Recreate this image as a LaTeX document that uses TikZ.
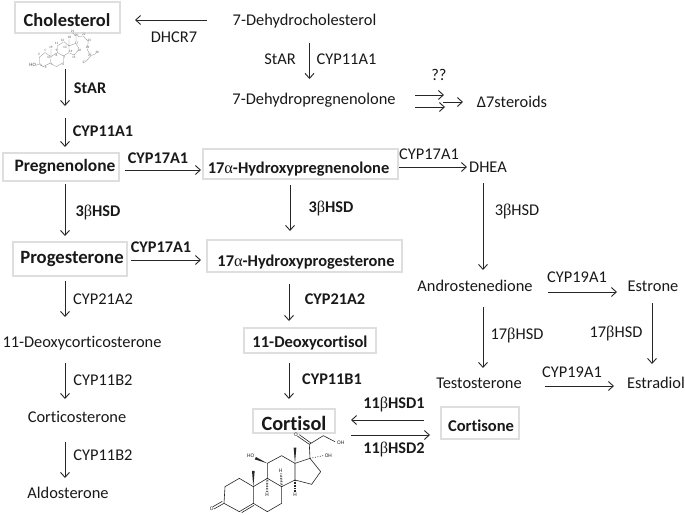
\documentclass[tikz,border=0pt]{standalone}
\usepackage{fontspec}
\setmainfont[Ligatures=NoCommon]{Carlito}
\newfontfamily\symfont{Liberation Serif}
\usetikzlibrary{arrows.meta}
\newcommand{\gr}[1]{{\symfont\mdseries #1}}
\tikzset{
  x=1pt,y=-1pt,
  lab/.style={font=\fontsize{16.4}{18}\selectfont,text=black!90,inner sep=0pt,text height=13pt,text depth=3pt,anchor=center},
  blab/.style={lab,font=\fontsize{16.3}{18}\selectfont\bfseries},
  boxed/.style={draw=black!13,line width=2.6pt,fill=white,inner sep=0pt},
  arr/.style={draw=black!85,line width=0.9pt,-{Straight Barb[length=5pt,width=9pt,line width=0.9pt]}},
  bond/.style={line width=0.6pt,draw=black!85},
  tinyatom/.style={font=\fontsize{3.4}{4}\selectfont,text=black!65,inner sep=0pt,fill=white,fill opacity=0.8,text opacity=1},
  smallatom/.style={font=\fontsize{5.5}{6}\selectfont,inner sep=0pt,text=black!85},
}
\begin{document}
\begin{tikzpicture}
\useasboundingbox (0,0) rectangle (685,514);
\fill[white] (0,0) rectangle (685,514);
% frames
\node[boxed,minimum width=105pt,minimum height=31pt] (bchol) at (67.5,17.5) {};
\node[boxed,minimum width=116pt,minimum height=28pt] (bpreg) at (61,167) {};
\node[boxed,minimum width=195pt,minimum height=30pt] (bohpreg) at (300.5,164) {};
\node[boxed,minimum width=114pt,minimum height=34pt] (bprog) at (70,259) {};
\node[boxed,minimum width=195pt,minimum height=32pt] (bohprog) at (304.5,256) {};
\node[boxed,minimum width=132pt,minimum height=25pt] (bdeoxy) at (310,340.5) {};
\node[boxed,minimum width=82pt,minimum height=24pt] (bcortisol) at (294,421) {};
\node[boxed,minimum width=78pt,minimum height=32pt] (bcortisone) at (480,423) {};
% boxed labels
\node[blab,font=\fontsize{18.4}{20}\selectfont\bfseries] (chol) at (67,21) {Cholesterol};
\node[blab,font=\fontsize{17.4}{19}\selectfont\bfseries] (preg) at (65,166) {Pregnenolone};
\node[blab,font=\fontsize{16.4}{18}\selectfont\bfseries] (ohpreg) at (298.5,168) {17\gr{α}-Hydroxypregnenolone};
\node[blab,font=\fontsize{18.7}{20}\selectfont\bfseries] (prog) at (72,258) {Progesterone};
\node[blab,font=\fontsize{16.4}{18}\selectfont\bfseries] (ohprog) at (306,261) {17\gr{α}-Hydroxyprogesterone};
\node[blab,font=\fontsize{16.5}{18}\selectfont\bfseries] (deoxy) at (310,342) {11-Deoxycortisol};
\node[blab,font=\fontsize{20.3}{22}\selectfont\bfseries] (cortisol) at (294,425) {Cortisol};
\node[blab,font=\fontsize{16.5}{18}\selectfont\bfseries] (cortisone) at (481,426) {Cortisone};
% plain metabolites
\node[lab] (dhc) at (304.5,20) {7-Dehydrocholesterol};
\node[lab] (dhp) at (314,99) {7-Dehydropregnenolone};
\node[lab] (d7) at (512,102) {Δ7steroids};
\node[lab] (dhea) at (488,167) {DHEA};
\node[lab] (andro) at (475,286) {Androstenedione};
\node[lab] (estrone) at (653,286) {Estrone};
\node[lab] (testo) at (479,383) {Testosterone};
\node[lab] (estradiol) at (656,383) {Estradiol};
\node[lab] (doc) at (82,342) {11-Deoxycorticosterone};
\node[lab] (cortico) at (77,417) {Corticosterone};
\node[lab] (aldo) at (68,493) {Aldosterone};
% enzyme labels
\node[lab] at (174,37) {DHCR7};
\node[lab] at (280,59) {StAR};
\node[lab] at (346.5,59) {CYP11A1};
\node[lab] at (439,75) {??};
\node[blab] at (90,88) {StAR};
\node[blab] at (103,131) {CYP11A1};
\node[blab] at (158,158) {CYP17A1};
\node[lab] at (429,154) {CYP17A1};
\node[blab] at (98,211) {3\gr{β}HSD};
\node[blab] at (331,207) {3\gr{β}HSD};
\node[blab] at (161,247) {CYP17A1};
\node[lab] at (517,210) {3\gr{β}HSD};
\node[lab] at (577,277) {CYP19A1};
\node[lab] at (517,334) {17\gr{β}HSD};
\node[lab] at (616,332) {17\gr{β}HSD};
\node[lab] at (572,372) {CYP19A1};
\node[lab] at (103,299) {CYP21A2};
\node[lab] at (103,380) {CYP11B2};
\node[lab] at (103,455) {CYP11B2};
\node[blab] at (335,299) {CYP21A2};
\node[blab] at (332,379) {CYP11B1};
\node[blab] at (394,403) {11\gr{β}HSD1};
\node[blab] at (394,448) {11\gr{β}HSD2};
% free connector ends
\coordinate (cholfoot) at (65,69);
\coordinate (cholmid) at (65,106);
\coordinate (pregtop) at (65,118);
\coordinate (d1a) at (415,95);
\coordinate (d1b) at (444,95);
\coordinate (d2a) at (415,107);
\coordinate (d2b) at (445,107);
\coordinate (d3a) at (443,102);
% connectors
\draw[arr] ([shift={(-97.5,0)}]dhc.center) -- ([shift={(68,-1)}]chol.center);
\draw[arr] ([shift={(5,23)}]dhc.center) -- ([shift={(-4.5,-20)}]dhp.center);
\draw[arr] (cholfoot) -- (cholmid);
\draw[arr] (pregtop) -- ([shift={(0,-19)}]preg.center);
\draw[arr] (d1a) -- (d1b);
\draw[arr] (d2a) -- (d2b);
\draw[arr] (d3a) -- ([shift={(-49,0)}]d7.center);
\draw[arr] ([shift={(0,18)}]preg.center) -- ([shift={(-7,-22)}]prog.center);
\draw[arr] ([shift={(60,4)}]preg.center) -- ([shift={(-97.5,2)}]ohpreg.center);
\draw[arr] ([shift={(-8.5,17)}]ohpreg.center) -- ([shift={(-16,-30)}]ohprog.center);
\draw[arr] ([shift={(100.5,-1)}]ohpreg.center) -- ([shift={(-21,0)}]dhea.center);
\draw[arr] ([shift={(59,2)}]prog.center) -- ([shift={(-105,-1)}]ohprog.center);
\draw[arr] ([shift={(-5,16)}]dhea.center) -- ([shift={(8,-16)}]andro.center);
\draw[arr] ([shift={(73,6)}]andro.center) -- ([shift={(-36,6)}]estrone.center);
\draw[arr] ([shift={(8,21)}]andro.center) -- ([shift={(4,-15)}]testo.center);
\draw[arr] ([shift={(-1,17)}]estrone.center) -- ([shift={(-4,-19)}]estradiol.center);
\draw[arr] ([shift={(66,3)}]testo.center) -- ([shift={(-42,3)}]estradiol.center);
\draw[arr] ([shift={(-7,23)}]prog.center) -- ([shift={(-17,-25)}]doc.center);
\draw[arr] ([shift={(-17,21)}]doc.center) -- ([shift={(-12,-18)}]cortico.center);
\draw[arr] ([shift={(-12,25)}]cortico.center) -- ([shift={(-3,-15)}]aldo.center);
\draw[arr] ([shift={(-17,23)}]ohprog.center) -- ([shift={(-21,-21)}]deoxy.center);
\draw[arr] ([shift={(-21,21)}]deoxy.center) -- ([shift={(-5,-26)}]cortisol.center);
\draw[arr] ([shift={(-57,-6)}]cortisone.center) -- ([shift={(57,-5)}]cortisol.center);
\draw[arr] ([shift={(57,10)}]cortisol.center) -- ([shift={(-51,9)}]cortisone.center);
% cholesterol skeleton
\begin{scope}[x=0.333pt,y=-0.333pt]
\draw[line width=0.3pt,draw=black!45]
 (118,172)--(135,158)--(153,170)--(150,190)--(130,200)--(118,192)--cycle
 (153,170)--(172,158)--(190,168)--(190,188)--(170,200)--(150,190)
 (172,158)--(172,138)--(192,125)--(207,138)--(207,158)--(190,168)
 (207,138)--(228,130)--(238,148)--(222,165)--(207,158)
 (228,130)--(228,110)--(250,108)--(265,125)--(262,148)--(272,168)--(290,160)
 (272,168)--(258,185) (228,110)--(218,98) (207,138)--(207,118) (153,170)--(153,148)
 (118,192)--(108,196);
\foreach \n/\p in {1/{135,150},2/{117,163},3/{122,195},4/{137,203},5/{155,192},6/{190,192},7/{194,173},8/{170,165},9/{170,150},10/{147,173},11/{170,130},12/{187,122},13/{195,143},14/{212,155},15/{222,172},16/{238,150},17/{230,130},18/{208,113},19/{153,142},20/{230,107},21/{218,93},22/{252,103},23/{268,120},24/{263,143},25/{270,165},26/{292,158},27/{253,187}}
  \node[tinyatom] at (\p) {\n};
\node[font=\fontsize{5}{6}\selectfont,inner sep=0pt,text=black!70] at (98,196) {HO};
\end{scope}
% cortisol skeleton
\begin{scope}[shift={(210,395)},x=0.3333pt,y=-0.3333pt]
\draw[bond]
 (42,325)--(45,275)--(88,250)--(130,275)--(130,325)--(88,350)--cycle
 (130,325)--(172,350)--(215,325)--(215,275)--(172,250)--(130,275)
 (172,250)--(172,205)--(215,182)--(255,205)--(255,255)--(215,275)
 (255,205)--(300,190)--(332,230)--(305,268)--(255,255)
 (300,190)--(298,148)--(340,122)--(375,140)
 (298,148)--(262,123) (304,145)--(268,119)
 (42,325)--(12,342) (37,319)--(9,335)
 (95,353)--(132,331);
\fill[black!85] (172,205)--(138,186)--(134,193)--cycle;
\fill[black!85] (130,275)--(126,228)--(134,228)--cycle;
\fill[black!85] (255,205)--(251,158)--(259,158)--cycle;
\draw[line width=0.6pt,draw=black!85,dash pattern=on 1pt off 1.5pt] (300,190)--(340,182);
\draw[line width=2pt,draw=black!85,dash pattern=on 0.6pt off 1pt] (215,275)--(213,236);
\draw[line width=2pt,draw=black!85,dash pattern=on 0.6pt off 1pt] (172,250)--(171,292);
\draw[line width=2pt,draw=black!85,dash pattern=on 0.6pt off 1pt] (255,255)--(255,292);
\node[smallatom] at (122,182) {HO};
\node[smallatom] at (355,182) {OH};
\node[smallatom] at (392,143) {OH};
\node[smallatom] at (258,120) {O};
\node[smallatom] at (5,340) {O};
\node[smallatom] at (212,228) {H};
\node[smallatom] at (171,300) {H};
\node[smallatom] at (255,300) {H};
\end{scope}
\end{tikzpicture}
\end{document}
